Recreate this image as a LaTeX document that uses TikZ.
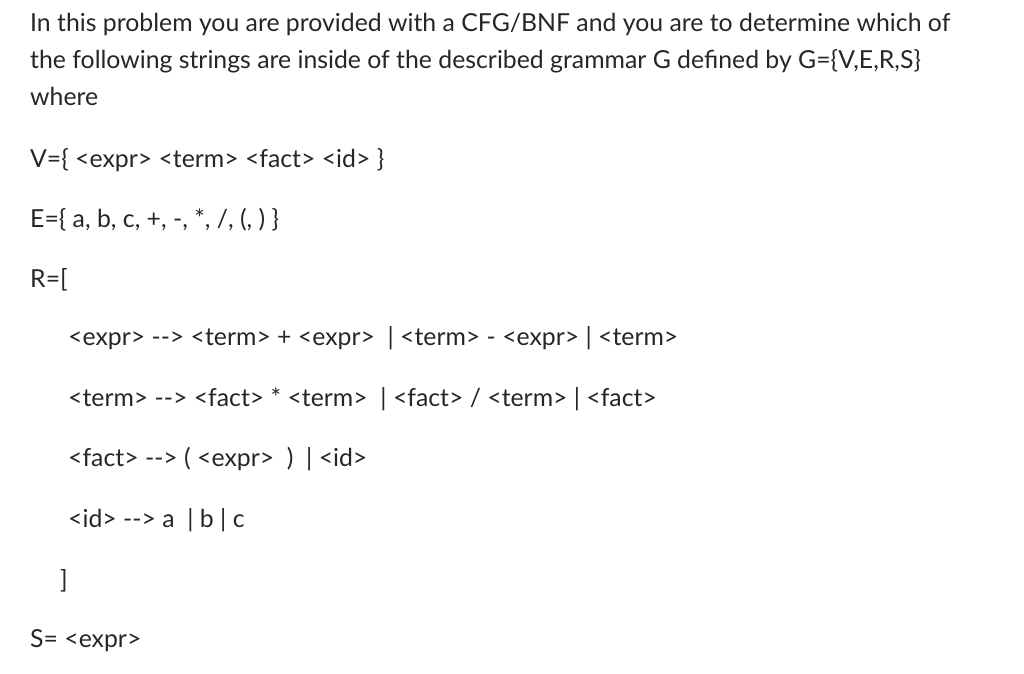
\documentclass[tikz,border=0pt]{standalone}
\usepackage{fontspec}
\setmainfont{Lato}
\begin{document}
\begin{tikzpicture}[x=1pt,y=-1pt,t/.style={anchor=base west,inner sep=0pt,font=\fontsize{24.8}{29}\selectfont,text=black!85}]
\useasboundingbox (0,0) rectangle (1024,673);
\node[t] (l1) at (30,31) {In this problem you are provided with a CFG/BNF and you are to determine which of};
\node[t] (l2) at (30,68) {the following strings are inside of the described grammar G defined by G=\{V,E,R,S\}};
\node[t] (l3) at (30,105) {where};
\node[t] (v) at (30,167) {V=\{ <expr> <term> <fact> <id> \}};
\node[t] (e) at (30,227) {E=\{ a, b, c, +, -, *, /, (, ) \}};
\node[t] (r) at (30,287) {R=[};
\node[t] (r1) at (68,345) {<expr> -{}-> <term> + <expr> \ | <term> - <expr> | <term>};
\node[t] (r2) at (68,406) {<term> -{}-> <fact> * <term> \ | <fact> / <term> | <fact>};
\node[t] (r3) at (68,466) {<fact> -{}-> ( <expr> \ ) \ | <id>};
\node[t] (r4) at (68,527) {<id> -{}-> a \ | b | c};
\node[t] (rb) at (60,588) {]};
\node[t] (s) at (30,647) {S= <expr>};
\end{tikzpicture}
\end{document}
